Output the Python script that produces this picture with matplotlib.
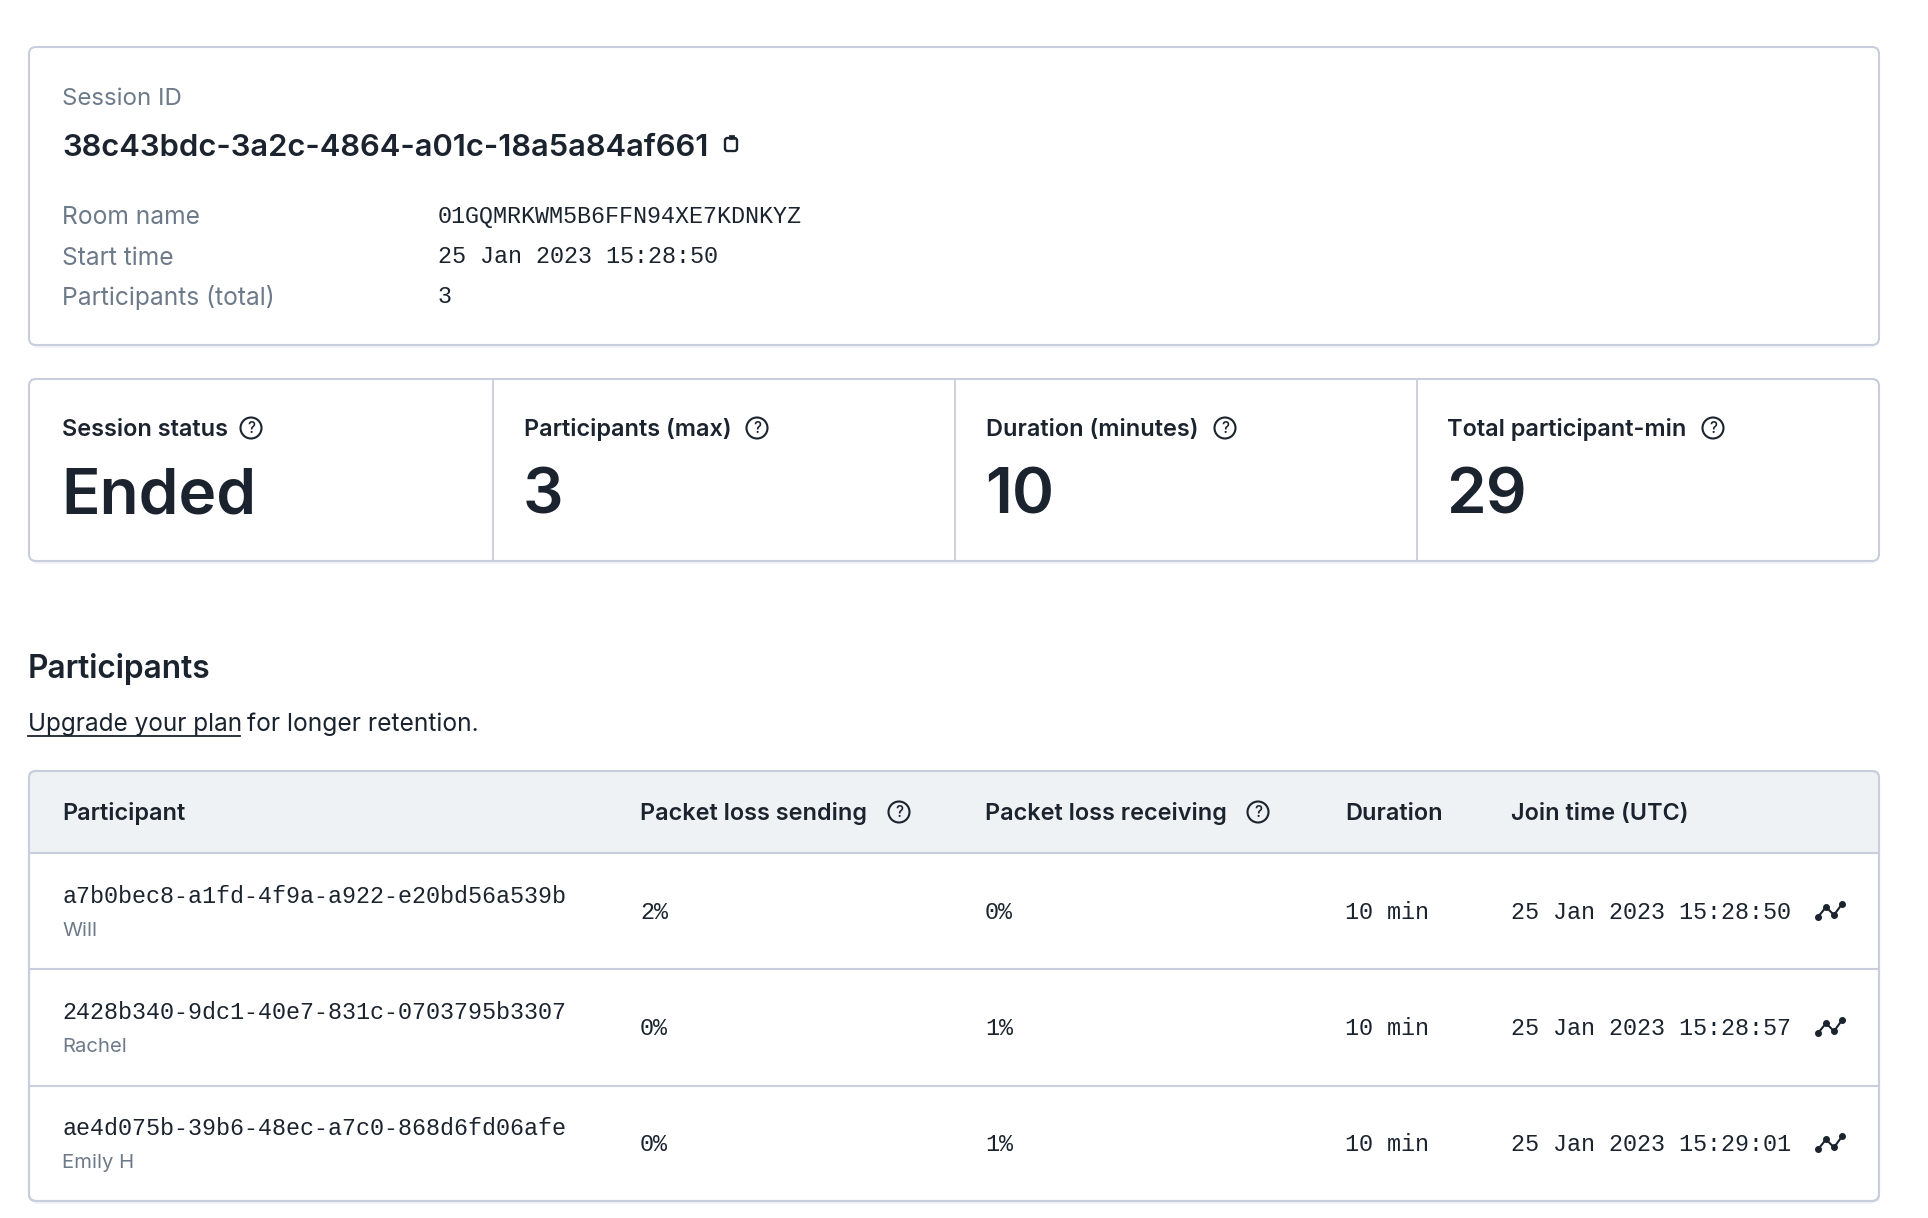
from __future__ import annotations

import matplotlib

matplotlib.use("Agg")
import matplotlib.pyplot as plt
from matplotlib.patches import Circle, FancyBboxPatch, Rectangle

# ------------------------------------------------------------
# Values read from the session page
# ------------------------------------------------------------
session_id = "38c43bdc-3a2c-4864-a01c-18a5a84af661"
info_labels = ["Room name", "Start time", "Participants (total)"]
info_values = ["01GQMRKWM5B6FFN94XE7KDNKYZ", "25 Jan 2023 15:28:50", "3"]

stat_labels = ["Session status", "Participants (max)", "Duration (minutes)", "Total participant-min"]
stat_values = ["Ended", "3", "10", "29"]

table_headers = ["Participant", "Packet loss sending", "Packet loss receiving", "Duration", "Join time (UTC)"]
participant_ids = [
    "a7b0bec8-a1fd-4f9a-a922-e20bd56a539b",
    "2428b340-9dc1-40e7-831c-0703795b3307",
    "ae4d075b-39b6-48ec-a7c0-868d6fd06afe",
]
participant_names = ["Will", "Rachel", "Emily H"]
loss_sending = ["2%", "0%", "0%"]
loss_receiving = ["0%", "1%", "1%"]
durations = ["10 min", "10 min", "10 min"]
join_times = ["25 Jan 2023 15:28:50", "25 Jan 2023 15:28:57", "25 Jan 2023 15:29:01"]

DARK = "#1a232e"
GREY = "#6d7a89"
BORDER = "#c8cedb"
HEADER_BG = "#eff2f5"
SANS = "Inter"
MONO = "Liberation Mono"

fig = plt.figure(figsize=(19.28, 12.18), dpi=100, facecolor="white")
ax = fig.add_axes([0, 0, 1, 1])
ax.set_xlim(0, 1928)
ax.set_ylim(1218, 0)
ax.axis("off")


def sans(x, y, s, size=17.3, color=DARK, weight="normal"):
    return ax.text(x, y, s, fontsize=size, color=color, family=SANS, weight=weight, va="baseline", zorder=4)


def mono(x, y, s):
    return ax.text(x, y, s, fontsize=16.8, color=DARK, family=MONO, va="baseline", zorder=4)


def card(x0, y0, x1, y1, fill="white"):
    # faint shadow first, then the rounded box itself
    ax.add_patch(FancyBboxPatch((x0 + 4, y0 + 8), x1 - x0 - 8, y1 - y0 - 6,
                                boxstyle="round,pad=0,rounding_size=6", fc="#f3f4f6", ec="none"))
    ax.add_patch(FancyBboxPatch((x0 + 1, y0 + 1), x1 - x0 - 2, y1 - y0 - 2,
                                boxstyle="round,pad=0,rounding_size=7", fc=fill, ec=BORDER, lw=1.5, zorder=2))


def help_icon(x, y):
    ax.add_patch(Circle((x, y), 10.5, fc="none", ec=DARK, lw=1.5, zorder=3))
    ax.text(x, y + 0.5, "?", fontsize=11, color=DARK, family=SANS, weight="medium",
            ha="center", va="center", zorder=3)


def trend_icon(x, y):
    ax.plot([x - 12, x - 4, x + 4, x + 12], [y + 6, y - 4, y + 4, y - 7], color=DARK, lw=1.5,
            marker="o", ms=4, zorder=3)


# ------------------------------------------------------------
# Session details card
# ------------------------------------------------------------
card(28, 46, 1880, 346)
sans(62, 105, "Session ID", color=GREY)
sans(62, 156, session_id, size=22.3, weight="semibold")
ax.add_patch(FancyBboxPatch((725, 138), 12, 13, boxstyle="round,pad=0,rounding_size=2.5",
                            fc="none", ec=DARK, lw=1.7, zorder=3))
ax.add_patch(Rectangle((728.5, 135), 5, 4, fc=DARK, ec=DARK, lw=0.5, zorder=3))

for i, (label, value) in enumerate(zip(info_labels, info_values)):
    sans(62, 224.5 + i * 40.2, label, size=17.7, color=GREY)
    mono(438, 223 + i * 40.2, value)

# ------------------------------------------------------------
# Stat tiles
# ------------------------------------------------------------
card(28, 378, 1880, 562)
for x in [493, 955, 1417]:
    ax.plot([x, x], [379, 561], color=BORDER, lw=1.3, zorder=3)

for x, icon_x, label, value in zip([62, 524, 986, 1447], [251, 757, 1225, 1713], stat_labels, stat_values):
    sans(x, 436, label, size=16.9, weight="semibold")
    help_icon(icon_x, 428)
    sans(x - 1, 514, value, size=46, weight="semibold")

# ------------------------------------------------------------
# Participants heading
# ------------------------------------------------------------
sans(28, 678, "Participants", size=22.8, weight="semibold")
sans(28, 731, "Upgrade your plan", size=17.5)
sans(247, 731, "for longer retention.", size=17.7)
ax.plot([28, 240], [736, 736], color=DARK, lw=1.3)

# ------------------------------------------------------------
# Table
# ------------------------------------------------------------
card(28, 770, 1880, 1202)
header_bg = FancyBboxPatch((29, 771), 1850, 200, boxstyle="round,pad=0,rounding_size=7",
                           fc=HEADER_BG, ec="none", zorder=2.1)
ax.add_patch(header_bg)
header_bg.set_clip_path(Rectangle((0, 771), 1928, 82, transform=ax.transData))
# border again on top of the header fill
ax.add_patch(FancyBboxPatch((29, 771), 1850, 430, boxstyle="round,pad=0,rounding_size=7",
                            fc="none", ec=BORDER, lw=1.5, zorder=2.2))

for y in [853, 969, 1086]:
    ax.plot([29, 1879], [y, y], color=BORDER, lw=1.5, zorder=3)

column_x = [62, 640, 985, 1345, 1511]
for x, label in zip(column_x, table_headers):
    sans(x, 820, label, size=16.9, weight="semibold")
help_icon(899, 812)
help_icon(1258, 812)

for i in range(len(participant_ids)):
    step = i * 116.2
    mono(62, 903 + step, participant_ids[i])
    sans(62, 936 + step, participant_names[i], size=14.6, color=GREY)
    mono(640, 919 + step, loss_sending[i])
    mono(985, 919 + step, loss_receiving[i])
    mono(1345, 919 + step, durations[i])
    mono(1511, 919 + step, join_times[i])
    trend_icon(1830, 911 + step)

fig.savefig("out.png", dpi=100)
